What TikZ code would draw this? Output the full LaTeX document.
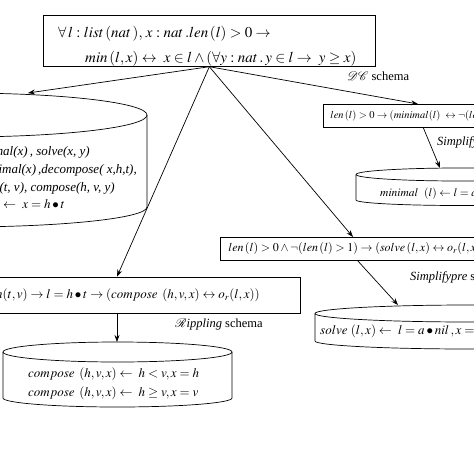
\documentclass[tikz,border=0pt]{standalone}
\usepackage{mathptmx}
\usepackage[no-math]{fontspec}
\setmainfont{Liberation Serif}
\usetikzlibrary{arrows.meta}
\begin{document}
\begin{tikzpicture}[x=1pt,y=-1pt,
  box/.style={draw, line width=0.7pt, inner ysep=0pt},
  arr/.style={-{Stealth[length=7pt,width=5pt]}, line width=0.7pt},
  cyl/.style={draw, line width=0.7pt},
  big/.style={inner sep=0pt, font=\fontsize{15}{17}\selectfont},
  mid/.style={inner sep=0pt, font=\fontsize{13}{15}\selectfont},
  lab/.style={inner sep=0pt, font=\fontsize{12.5}{14}\selectfont},
  rbf/.style={font=\fontsize{10.5}{12}\selectfont},
  spf/.style={font=\fontsize{12}{14}\selectfont},
  c2f/.style={inner sep=0pt, font=\fontsize{11.5}{13}\selectfont}]
\useasboundingbox (0,0) rectangle (474,474);
\clip (0,0) rectangle (474,474);
% top box
\node[box, anchor=north west, minimum width=332pt, minimum height=51pt] (top) at (43,15) {};
\node[big, anchor=base west] (t1) at (58,37) {$\forall\, l : list\,(nat\,),\, x : nat\,.len\,(l) > 0 \rightarrow$};
\node[big, anchor=base west] (t2) at (85,62) {$min\,(l,x) \leftrightarrow\ x \in l \wedge (\forall y : nat\,.\,y \in l \rightarrow\ y \geq x)$};
\node[lab, anchor=base west] (dc) at (347,80) {$\mathcal{DC}$ schema};
% right box 1
\node[box, rbf, anchor=west, minimum height=23pt, inner xsep=7pt] (rb) at (323,115.5) {$len\,(l) > 0 \rightarrow (minimal(l)\ \leftrightarrow \neg(len\,(l) > 1 \rightarrow false))$};
\node[lab, anchor=base west] (si) at (437,145) {\textit{Simplify} schema};
% simplifypre box
\node[box, spf, anchor=west, minimum height=23pt, inner xsep=8pt] (sp) at (220,248.5) {$len\,(l) > 0 \wedge \neg(len\,(l) > 1) \rightarrow (solve\,(l,x) \leftrightarrow o_r(l,x))$};
\node[lab, anchor=base west] (spl) at (410,280) {\textit{Simplifypre} schema};
% rippling box
\node[box, mid, anchor=east, minimum height=36pt, inner xsep=41pt] (rip) at (301,295) {\makebox[400pt][r]{$min(t,v) \rightarrow l = h \bullet t \rightarrow (compose\ \,(h,v,x) \leftrightarrow o_r(l,x))$}};
\node[lab, anchor=base west] (ripl) at (175,327) {$\mathcal{R}$\textit{ippling} schema};
% cylinder 1
\draw[cyl] (-40,115) ellipse[x radius=187pt, y radius=22pt];
\draw[cyl] (147,115) -- (147,207) arc[start angle=0, end angle=-180, x radius=187pt, y radius=20pt] -- (-227,115);
\coordinate (c1) at (28,93);
\node[mid, anchor=base east] (c1a) at (90,155) {$min(x,y) \leftarrow$ \textit{minimal(x)\,, solve(x, y)}};
\node[mid, anchor=base east] (c1b) at (137,173) {$min(x,y) \leftarrow$ \textit{$\neg$minimal(x)\,,decompose( x,h,t),}};
\node[mid, anchor=base east] (c1c) at (115,191) {\textit{min(t, v), compose(h, v, y)}};
\node[mid, anchor=base east] (c1d) at (65,208) {$decompose(x,h,t) \leftarrow\ x = h \bullet t$};
% cylinder 2
\draw[cyl] (460,174.5) ellipse[x radius=104pt, y radius=6.5pt];
\draw[cyl] (356,174.5) -- (356,200) arc[start angle=180, end angle=360, x radius=104pt, y radius=5.5pt];
\coordinate (c2) at (440,168);
\node[c2f, anchor=base west] (c2a) at (380,196) {$minimal\ \ (l) \leftarrow l = a \bullet nil$};
% cylinder 3
\draw[cyl] (117.5,352) ellipse[x radius=114.5pt, y radius=10pt];
\draw[cyl] (3,352) -- (3,398) arc[start angle=180, end angle=360, x radius=114.5pt, y radius=9pt] -- (232,352);
\coordinate (c3) at (117,342);
\node[mid, anchor=base west] (c3a) at (28,377) {$compose\ \,(h,v,x) \leftarrow\ h < v, x = h$};
\node[mid, anchor=base west] (c3b) at (28,396) {$compose\ \,(h,v,x) \leftarrow\ h \geq v, x = v$};
% cylinder 4
\draw[cyl] (470,313.5) ellipse[x radius=155pt, y radius=8.5pt];
\draw[cyl] (315,313.5) -- (315,341) arc[start angle=180, end angle=360, x radius=155pt, y radius=8pt];
\coordinate (c4) at (398,305);
\node[mid, anchor=base west] (c4a) at (320,334) {$solve\ (l,x) \leftarrow\ l = a \bullet nil\,, x = a$};
% connectors
\draw[arr] (top.south) -- (c1);
\draw[arr] (top.south) -- (c3 |- rip.north);
\draw[arr] (top.south) -- (353,237);
\draw[arr] (top.south) -- (418,104);
\draw[arr] (423,127) -- (c2);
\draw[arr] (357,260) -- (c4);
\draw[arr] (c3 |- rip.south) -- (c3);
\end{tikzpicture}
\end{document}
